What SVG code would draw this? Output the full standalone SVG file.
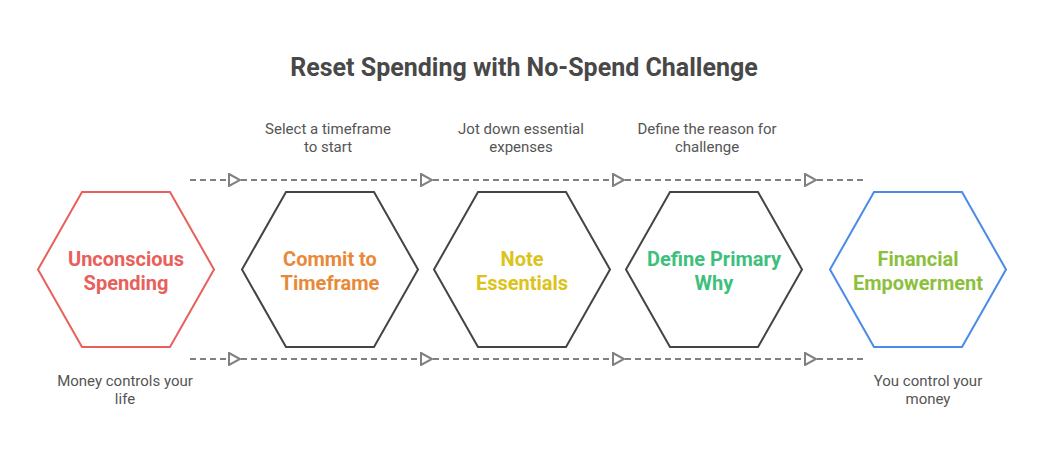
<svg xmlns="http://www.w3.org/2000/svg" width="1048" height="468" viewBox="0 0 1048 468">
<style>
.title{font-family:Roboto,"Liberation Sans",sans-serif;font-weight:700;font-size:25px;fill:#484848;text-anchor:middle}
.lbl{font-family:Roboto,"Liberation Sans",sans-serif;font-weight:700;font-size:20px;text-anchor:middle}
.desc{font-family:Roboto,"Liberation Sans",sans-serif;font-size:15px;fill:#555;text-anchor:middle}
.hex{fill:#fff;stroke-width:2}
.dash{fill:none;stroke:#808080;stroke-width:2;stroke-dasharray:6,4}
</style>
<defs>
<marker id="tri" markerWidth="14" markerHeight="14" refX="12" refY="7" orient="auto" markerUnits="userSpaceOnUse">
<path d="M1,1 L12,7 L1,13 Z" fill="#fff" stroke="#808080" stroke-width="2" stroke-linejoin="miter"/>
</marker>
</defs>
<rect width="1048" height="468" fill="#fff"/>
<text class="title" x="524" y="76">Reset Spending with No-Spend Challenge</text>
<g id="connectors">
<path class="dash" d="M190,180 H240" marker-end="url(#tri)"/>
<path class="dash" d="M241,180 H432" marker-end="url(#tri)"/>
<path class="dash" d="M433,180 H624" marker-end="url(#tri)"/>
<path class="dash" d="M625,180 H816" marker-end="url(#tri)"/>
<path class="dash" d="M817,180 H866"/>
<path class="dash" d="M190,359 H240" marker-end="url(#tri)"/>
<path class="dash" d="M241,359 H432" marker-end="url(#tri)"/>
<path class="dash" d="M433,359 H624" marker-end="url(#tri)"/>
<path class="dash" d="M625,359 H816" marker-end="url(#tri)"/>
<path class="dash" d="M817,359 H866"/>
</g>
<g id="node-unconscious">
<polygon class="hex" stroke="#E8605C" points="38,269.5 82,192 170,192 214,269.5 170,347 82,347"/>
<text class="lbl" fill="#E8605C" x="126" y="266">Unconscious</text>
<text class="lbl" fill="#E8605C" x="126" y="290">Spending</text>
</g>
<g id="node-commit">
<polygon class="hex" stroke="#444" points="242,269.5 286,192 374,192 418,269.5 374,347 286,347"/>
<text class="lbl" fill="#E8893A" x="330" y="266">Commit to</text>
<text class="lbl" fill="#E8893A" x="330" y="290">Timeframe</text>
</g>
<g id="node-note">
<polygon class="hex" stroke="#444" points="434,269.5 478,192 566,192 610,269.5 566,347 478,347"/>
<text class="lbl" fill="#DCC31C" x="522" y="266">Note</text>
<text class="lbl" fill="#DCC31C" x="522" y="290">Essentials</text>
</g>
<g id="node-define">
<polygon class="hex" stroke="#444" points="626,269.5 670,192 758,192 802,269.5 758,347 670,347"/>
<text class="lbl" fill="#3EC07C" x="714" y="266">Define Primary</text>
<text class="lbl" fill="#3EC07C" x="714" y="290">Why</text>
</g>
<g id="node-financial">
<polygon class="hex" stroke="#4A8AE8" points="830,269.5 874,192 962,192 1006,269.5 962,347 874,347"/>
<text class="lbl" fill="#8DBF3E" x="918" y="266">Financial</text>
<text class="lbl" fill="#8DBF3E" x="918" y="290">Empowerment</text>
</g>
<g id="desc-commit">
<text class="desc" x="328" y="134">Select a timeframe</text>
<text class="desc" x="328" y="152">to start</text>
</g>
<g id="desc-note">
<text class="desc" x="521" y="134">Jot down essential</text>
<text class="desc" x="521" y="152">expenses</text>
</g>
<g id="desc-define">
<text class="desc" x="707" y="134">Define the reason for</text>
<text class="desc" x="707" y="152">challenge</text>
</g>
<g id="desc-start">
<text class="desc" x="125" y="386">Money controls your</text>
<text class="desc" x="125" y="404">life</text>
</g>
<g id="desc-end">
<text class="desc" x="928" y="386">You control your</text>
<text class="desc" x="928" y="404">money</text>
</g>
</svg>
